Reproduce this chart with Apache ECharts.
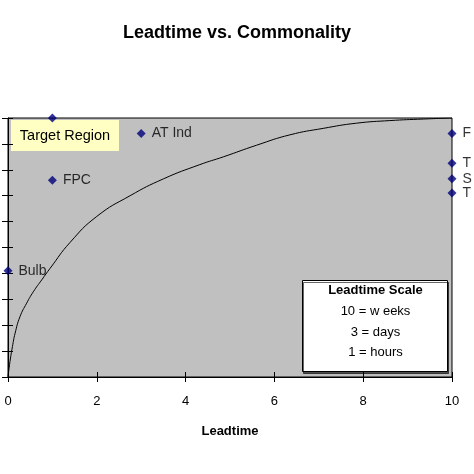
<!DOCTYPE html>
<html><head><meta charset="utf-8">
<script src="https://cdn.jsdelivr.net/npm/echarts@6/dist/echarts.min.js"></script>
<style>html,body{margin:0;padding:0;background:#fff}#c{width:474px;height:474px}</style>
</head><body><div id="c"></div>
<script>
// Curve
var curveX = [0, 0.045, 0.1, 0.16, 0.27, 0.42, 0.57, 0.76, 0.95, 1.4, 2.0, 2.75, 3.5, 4.32, 4.85, 5.6, 6.35, 7.1, 7.85, 8.6, 9.35, 10];
var curveY = [0, 0.6, 1.17, 1.69, 2.33, 2.85, 3.29, 3.75, 4.2, 5.2, 6.2, 7.0, 7.65, 8.2, 8.5, 8.95, 9.35, 9.6, 9.8, 9.9, 9.96, 10];
// Products
var pointNames = ['', 'AT Ind', 'FPC', 'Bulb', 'F', 'T', 'S', 'T'];
var pointX = [1, 3, 1, 0, 10, 10, 10, 10];
var pointY = [10, 9.4, 7.6, 4.1, 9.4, 8.25, 7.65, 7.1];
var xTicks = [0, 2, 4, 6, 8, 10];
var scaleLines = ['10 = w eeks', '3 = days', '1 = hours'];

var FONT = '"Liberation Sans", Arial, sans-serif';
var chart = echarts.init(document.getElementById('c'));
var curve = curveX.map(function (x, i) { return [x, curveY[i]]; });
var pts = pointX.map(function (x, i) { return { value: [x, pointY[i]], name: pointNames[i] }; });

chart.setOption({
  animation: false,
  backgroundColor: '#fff',
  title: {
    text: 'Leadtime vs. Commonality', left: 'center', top: 19,
    textStyle: { fontFamily: FONT, fontSize: 18, fontWeight: 'bold', color: '#000' }
  },
  grid: { left: 8, right: 22, top: 118, bottom: 97, show: true, backgroundColor: '#C0C0C0', borderColor: '#000', borderWidth: 1 },
  xAxis: [{
    type: 'value', min: xTicks[0], max: xTicks[xTicks.length - 1], interval: 2,
    name: 'Leadtime', nameLocation: 'middle', nameGap: 48,
    nameTextStyle: { fontFamily: FONT, fontSize: 13, fontWeight: 'bold', color: '#000' },
    axisLine: { lineStyle: { color: '#000', width: 1 } },
    axisTick: { show: true, length: 5, lineStyle: { color: '#000' } },
    axisLabel: { fontFamily: FONT, fontSize: 13, color: '#000', margin: 18 },
    splitLine: { show: false }
  }, {
    type: 'value', min: 0, max: 10, interval: 2, position: 'bottom',
    axisLine: { show: false }, axisLabel: { show: false },
    axisTick: { show: true, inside: true, length: 5, lineStyle: { color: '#000' } },
    splitLine: { show: false }
  }],
  yAxis: [{
    type: 'value', min: 0, max: 10, interval: 1,
    axisLine: { show: true, lineStyle: { color: '#000', width: 1 } },
    axisTick: { show: true, length: 6, lineStyle: { color: '#000' } },
    axisLabel: { show: false },
    splitLine: { show: false }
  }, {
    type: 'value', min: 0, max: 10, interval: 1, position: 'left',
    axisLine: { show: false }, axisLabel: { show: false },
    axisTick: { show: true, inside: true, length: 5, lineStyle: { color: '#000' } },
    splitLine: { show: false }
  }],
  series: [{
    type: 'line', data: curve, smooth: 0.5, showSymbol: false, symbol: 'none',
    lineStyle: { color: '#000', width: 1 }, z: 2, silent: true
  }, {
    type: 'scatter', data: pts, symbol: 'diamond', symbolSize: 9, clip: false,
    itemStyle: { color: '#00007A' }, z: 3,
    label: {
      show: true, position: 'right', distance: 6, formatter: '{b}',
      fontFamily: FONT, fontSize: 14, color: '#000'
    }
  }],
  graphic: [{
    type: 'group', left: 11, top: 120, z: 10,
    children: [{
      type: 'rect', shape: { x: 0, y: 0, width: 108, height: 31 },
      style: { fill: '#FFFFC4', stroke: null }
    }, {
      type: 'text', x: 54, y: 15.5,
      style: { text: 'Target Region', fontFamily: FONT, fontSize: 14.5, fill: '#000', textAlign: 'center', textVerticalAlign: 'middle' }
    }]
  }, {
    type: 'group', left: 302, top: 280, z: 10,
    children: [{
      type: 'rect', shape: { x: 0, y: 0, width: 145, height: 91 },
      style: { fill: '#fff', stroke: '#000', lineWidth: 1, shadowColor: 'rgba(0,0,0,0.6)', shadowOffsetX: 1, shadowOffsetY: 2, shadowBlur: 0 }
    }, {
      type: 'text', x: 73, y: 10,
      style: { text: 'Leadtime Scale', fontFamily: FONT, fontSize: 13, fontWeight: 'bold', fill: '#000', textAlign: 'center', textVerticalAlign: 'middle' }
    }, {
      type: 'text', x: 73, y: 31,
      style: { text: scaleLines[0], fontFamily: FONT, fontSize: 13, fill: '#000', textAlign: 'center', textVerticalAlign: 'middle' }
    }, {
      type: 'text', x: 73, y: 51.5,
      style: { text: scaleLines[1], fontFamily: FONT, fontSize: 13, fill: '#000', textAlign: 'center', textVerticalAlign: 'middle' }
    }, {
      type: 'text', x: 73, y: 72,
      style: { text: scaleLines[2], fontFamily: FONT, fontSize: 13, fill: '#000', textAlign: 'center', textVerticalAlign: 'middle' }
    }]
  }]
});
</script>
</body></html>
